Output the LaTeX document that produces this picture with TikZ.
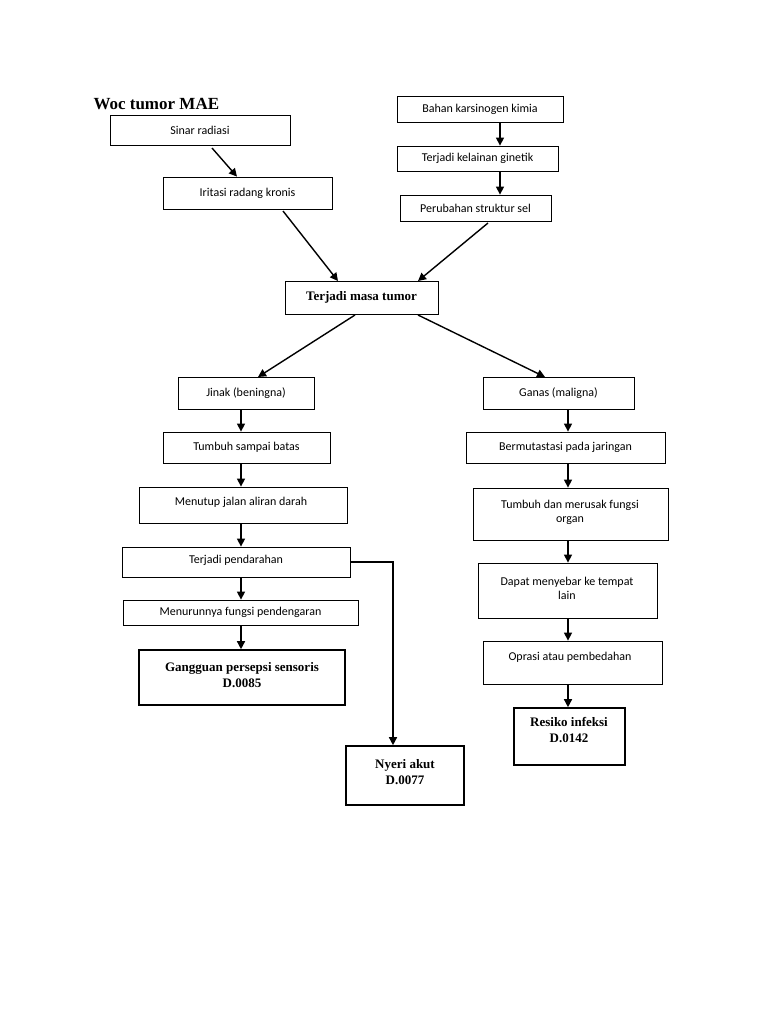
\documentclass[tikz,border=0pt]{standalone}
\usepackage{fontspec}
\setmainfont{Liberation Serif}
\newfontfamily\calfnt{Carlito}
\usetikzlibrary{arrows.meta}
\begin{document}
\begin{tikzpicture}[x=1pt,y=-1pt,
 bx/.style={draw,line width=0.8pt,inner sep=0pt},
 bb/.style={draw,line width=1.6pt,inner sep=0pt},
 sm/.style={font=\calfnt\fontsize{12}{14}\selectfont,align=center},
 bt/.style={font=\bfseries\fontsize{13}{16}\selectfont,align=center},
 ar/.style={line width=1.4pt,-{Triangle[length=8pt,width=8pt]}}]
\useasboundingbox (0,0) rectangle (768,1024);
\newcommand\bxat[6]{\node[#1,minimum width={(#4-#2)*1pt},minimum height={(#5-#3)*1pt}] (#6) at ({(#2+#4)/2},{(#3+#5)/2}) {};}
\node[font=\bfseries\fontsize{17}{20}\selectfont,anchor=west] (title) at (90,104) {Woc tumor MAE};
\bxat{bx}{110}{115}{290}{145}{a}\node[sm] at (a) {Sinar radiasi};
\bxat{bx}{163}{177}{332}{209}{b}\node[sm] at (b) {Iritasi radang kronis};
\bxat{bx}{397}{96}{563}{122}{c}\node[sm] at (c) {Bahan karsinogen kimia};
\bxat{bx}{397}{146}{558}{171}{d}\node[sm] at (d) {Terjadi kelainan ginetik};
\bxat{bx}{400}{195}{551}{221}{e}\node[sm] at (e) {Perubahan struktur sel};
\bxat{bx}{285}{281}{438}{314}{m}\node[bt] at (m) {Terjadi masa tumor};
\bxat{bx}{178}{377}{314}{409}{j1}\node[sm] at (j1) {Jinak (beningna)};
\bxat{bx}{163}{432}{330}{463}{j2}\node[sm] at (j2) {Tumbuh sampai batas};
\bxat{bx}{139}{487}{347}{523}{j3}\node[sm] at (241,502) {Menutup jalan aliran darah};
\bxat{bx}{122}{547}{350}{577}{j4}\node[sm] at (236,560) {Terjadi pendarahan};
\bxat{bx}{123}{600}{358}{625}{j5}\node[sm] at (j5) {Menurunnya fungsi pendengaran};
\bxat{bb}{139}{650}{345}{705}{j6}\node[bt] at (242,675) {Gangguan persepsi sensoris\\D.0085};
\bxat{bb}{346}{746}{464}{805}{n}\node[bt] at (405,772) {Nyeri akut\\D.0077};
\bxat{bx}{483}{377}{634}{409}{g1}\node[sm] at (g1) {Ganas (maligna)};
\bxat{bx}{466}{432}{665}{463}{g2}\node[sm] at (g2) {Bermutastasi pada jaringan};
\bxat{bx}{473}{488}{668}{540}{g3}\node[sm] at (570,512) {Tumbuh dan merusak fungsi\\organ};
\bxat{bx}{478}{563}{657}{618}{g4}\node[sm] at (567,588) {Dapat menyebar ke tempat\\lain};
\bxat{bx}{483}{641}{662}{684}{g5}\node[sm] at (570,657) {Oprasi atau pembedahan};
\bxat{bb}{514}{708}{625}{765}{g6}\node[bt] at (569,730) {Resiko infeksi\\D.0142};
\draw[ar] (212,148) -- (b.north -| 237,0);
\draw[ar] (283,211) -- (338,281);
\draw[ar] (c.south -| 500,0) -- (d.north -| 500,0);
\draw[ar] (d.south -| 500,0) -- (e.north -| 500,0);
\draw[ar] (488,223) -- (418,281);
\draw[ar] (355,315) -- (258,377);
\draw[ar] (418,315) -- (545,377);
\foreach \p/\q in {j1/j2,j2/j3,j3/j4,j4/j5,j5/j6} \draw[ar] (\p.south -| 241,0) -- (\q.north -| 241,0);
\foreach \p/\q in {g1/g2,g2/g3,g3/g4,g4/g5,g5/g6} \draw[ar] (\p.south -| 568,0) -- (\q.north -| 568,0);
\draw[ar] (j4.east |- 0,562) -- (393,562) -- (n.north -| 393,0);
\end{tikzpicture}
\end{document}
